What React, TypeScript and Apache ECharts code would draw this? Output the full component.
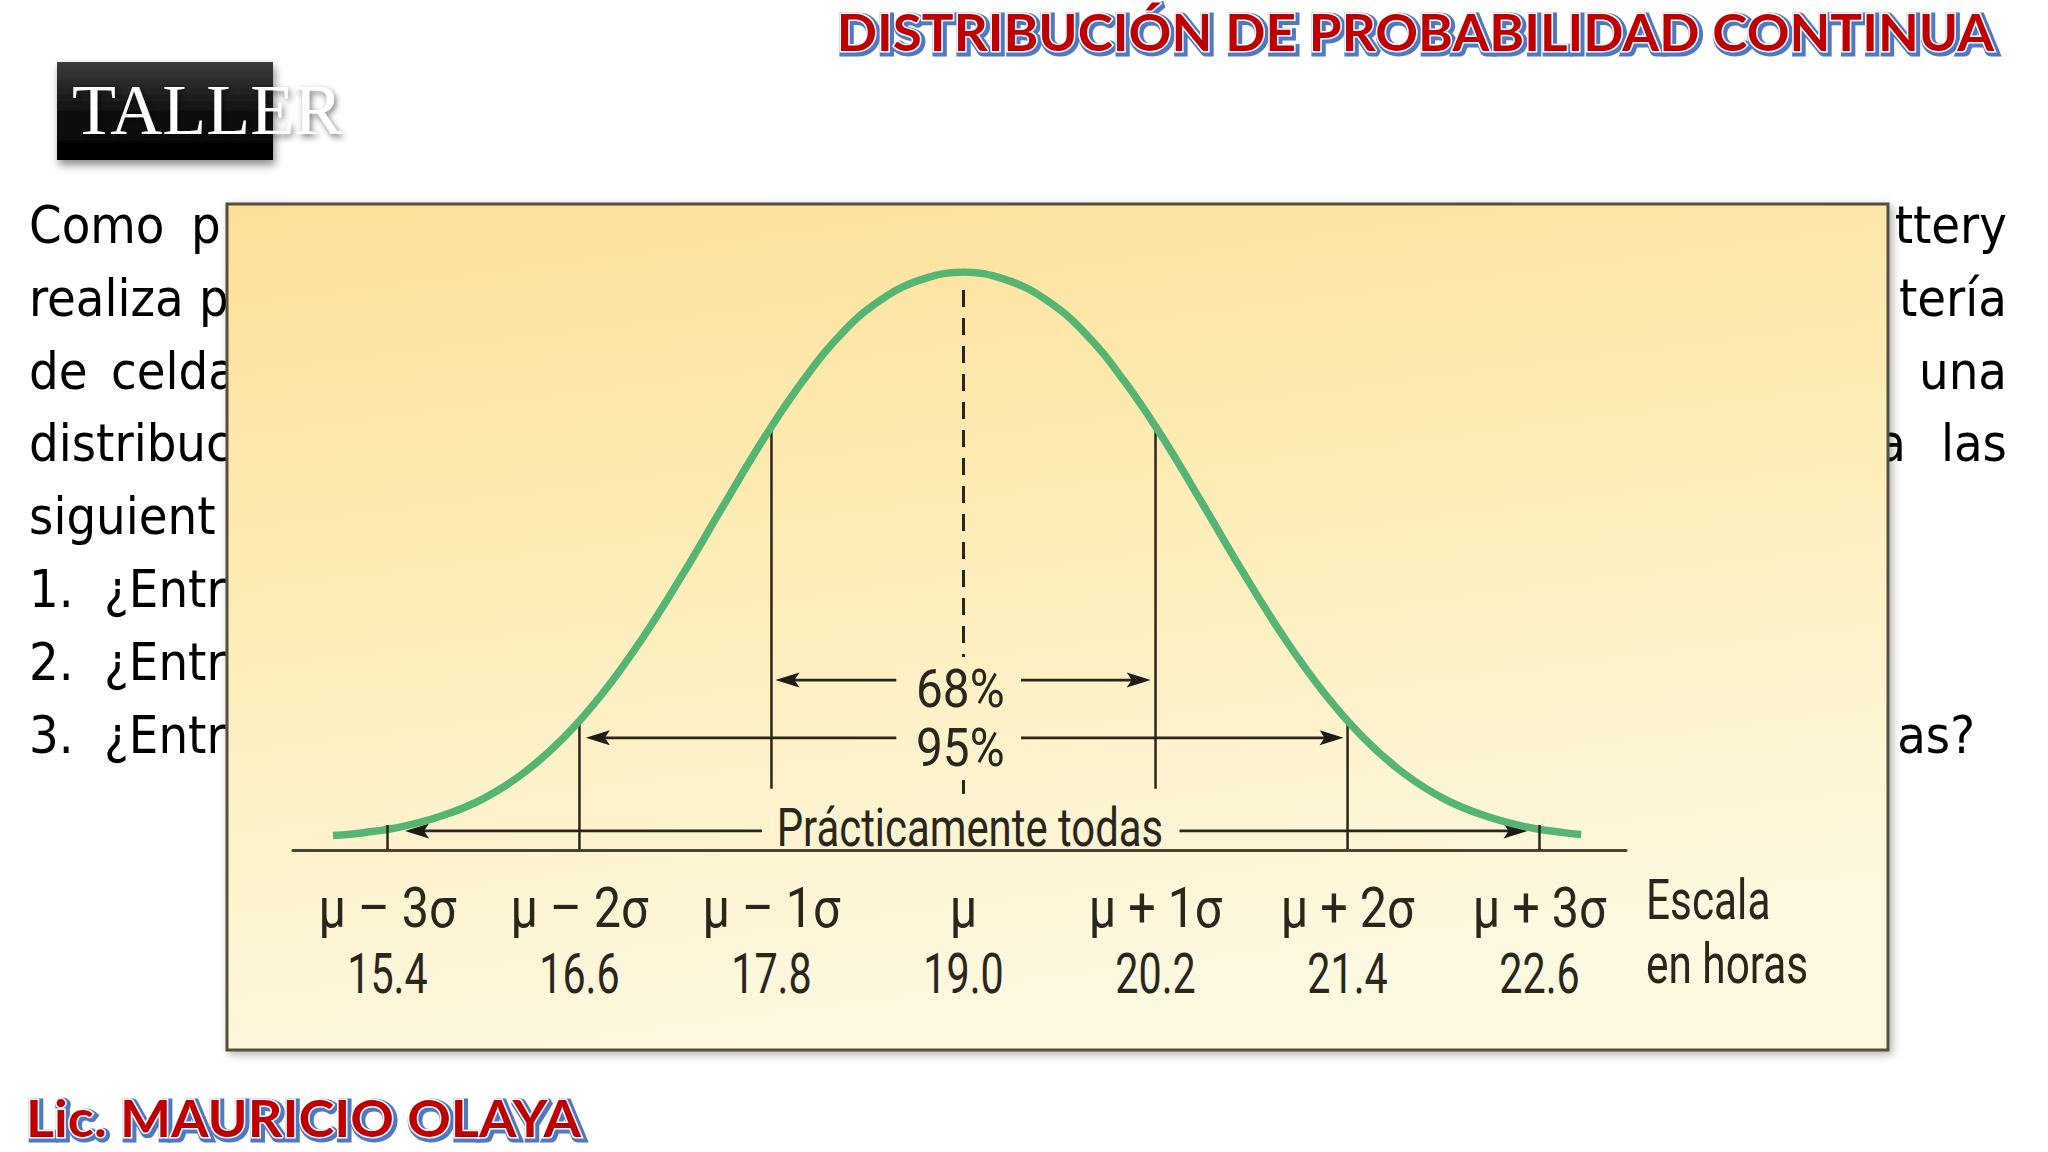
import React, { useEffect, useRef } from "react";
import * as echarts from "echarts";

// ---- data ----
const tickValues = [15.4, 16.6, 17.8, 19.0, 20.2, 21.4, 22.6];
const sigmaLabels = ["μ – 3σ", "μ – 2σ", "μ – 1σ", "μ", "μ + 1σ", "μ + 2σ", "μ + 3σ"];
const hourLabels = ["15.4", "16.6", "17.8", "19.0", "20.2", "21.4", "22.6"];
const edgeTicks = [15.4, 22.6];

// drawn bell curve (hours, relative height; 1 = peak)
const curveHours = [15.06, 15.25, 15.5, 15.75, 16.0, 16.25, 16.5, 16.75, 17.0, 17.25, 17.5, 17.75, 18.0, 18.25, 18.5, 18.75, 19.0, 19.25, 19.5, 19.75, 20.0, 20.25, 20.5, 20.75, 21.0, 21.25, 21.5, 21.75, 22.0, 22.25, 22.5, 22.75, 22.86];
const curveHeight = [0.025, 0.03, 0.041, 0.06, 0.089, 0.133, 0.194, 0.273, 0.369, 0.479, 0.596, 0.711, 0.813, 0.897, 0.955, 0.988, 1.0, 0.988, 0.955, 0.897, 0.813, 0.711, 0.596, 0.479, 0.369, 0.273, 0.194, 0.133, 0.089, 0.06, 0.041, 0.03, 0.027];

// vertical bounds: [hours, from, to]
const boundLines = [
  [16.6, 0, 0.228],
  [17.8, 0.106, 0.735],
  [20.2, 0.106, 0.735],
  [21.4, 0, 0.228],
];
// dashed mean line segments: [hours, from, to]
const meanSegments = [
  [19.0, 0.334, 0.969],
  [19.0, 0.097, 0.121],
];
// arrows: [tail hours, tip hours, height]
const arrowRows = [
  [18.58, 17.825, 0.294],
  [19.36, 20.17, 0.294],
  [18.58, 16.64, 0.194],
  [19.36, 21.375, 0.194],
  [17.74, 15.51, 0.033],
  [20.35, 22.525, 0.033],
];
// interval labels: [hours, height, text]
const intervalLabels: [number, number, string][] = [
  [18.98, 0.28, "68%"],
  [18.98, 0.178, "95%"],
  [19.04, 0.038, "Prácticamente todas"],
];
const intervalScale = [0.9, 0.9, 0.79];

const slideTitle = "DISTRIBUCIÓN DE PROBABILIDAD CONTINUA";
const footerText = "Lic. MAURICIO OLAYA";
const badgeText = "TALLER";
const scaleText = ["Escala", "en horas"];

const NARROW = "Roboto, 'Liberation Sans', sans-serif";
const SLIDE = "'DejaVu Sans Condensed', 'DejaVu Sans', sans-serif";
const INK = "#2a261c";

function bodyTexts() {
  const left: [string, number, number][] = [
    ["Como", 29, 225], ["p", 191, 225],
    ["realiza", 29, 298], ["p", 199, 298],
    ["de", 29, 371], ["celda", 111, 371],
    ["distribuc", 29, 443],
    ["siguient", 29, 516],
    ["1.", 29, 589], ["¿Entr", 104, 589],
    ["2.", 29, 662], ["¿Entr", 104, 662],
    ["3.", 29, 735], ["¿Entr", 104, 735],
  ];
  const right: [string, number, number][] = [
    ["ttery", 2007, 225],
    ["tería", 2007, 298],
    ["una", 2007, 371],
    ["a", 1906, 443], ["las", 2007, 443],
    ["as?", 1975, 735],
  ];
  const mk = (t: string, x: number, y: number, align: string) => ({
    type: "text",
    z: 0,
    x,
    y,
    style: { text: t, fill: "#000", font: `52px ${SLIDE}`, align, verticalAlign: "middle" },
  });
  return [...left.map((l) => mk(l[0], l[1], l[2], "left")), ...right.map((r) => mk(r[0], r[1], r[2], "right"))];
}

function wordArt(text: string, x: number, y: number, align: string, sx: number) {
  const font = `bold 52px Lato, 'Open Sans', sans-serif`;
  return [
    {
      type: "text", z: 20, x: x + 2, y: y + 2, scaleX: sx,
      style: { text, font, fill: "#4f79c6", stroke: "#4f79c6", lineWidth: 7, align, verticalAlign: "middle" },
    },
    {
      type: "text", z: 21, x, y, scaleX: sx,
      style: { text, font, fill: "#c00000", stroke: "#ffffff", lineWidth: 3, align, verticalAlign: "middle" },
    },
  ];
}

export default function App() {
  const ref = useRef<HTMLDivElement>(null);
  useEffect(() => {
    if (!ref.current) return;
    const chart = echarts.init(ref.current, undefined, { renderer: "svg" });
    const curve = curveHours.map((h, i) => [h, curveHeight[i]]);

    const option: any = {
      animation: false,
      backgroundColor: "#ffffff",
      grid: { left: 293, right: 422, top: 272, bottom: 302, containLabel: false },
      xAxis: {
        type: "value",
        min: 14.81,
        max: 23.14,
        z: 5,
        axisLine: { show: true, lineStyle: { color: "#4a4430", width: 3 } },
        splitLine: { show: false },
        axisTick: {
          show: true,
          inside: true,
          length: 25,
          customValues: edgeTicks,
          lineStyle: { color: INK, width: 2.5 },
        },
        axisLabel: { show: false },
      },
      yAxis: { type: "value", min: 0, max: 1, show: false, splitLine: { show: false } },
      series: [
        {
          type: "line",
          data: curve,
          smooth: 0.4,
          symbol: "none",
          z: 4,
          lineStyle: { color: "#55b572", width: 7.5 },
        },
        {
          type: "custom",
          data: boundLines,
          clip: false,
          z: 3,
          renderItem: (_p: any, api: any) => {
            const a = api.coord([api.value(0), api.value(1)]);
            const b = api.coord([api.value(0), api.value(2)]);
            return { type: "line", shape: { x1: a[0], y1: a[1], x2: b[0], y2: b[1] }, style: { stroke: INK, lineWidth: 2.5 } };
          },
        },
        {
          type: "custom",
          data: meanSegments,
          clip: false,
          z: 3,
          renderItem: (_p: any, api: any) => {
            const a = api.coord([api.value(0), api.value(1)]);
            const b = api.coord([api.value(0), api.value(2)]);
            return {
              type: "line",
              shape: { x1: a[0], y1: b[1], x2: b[0], y2: a[1] },
              style: { stroke: INK, lineWidth: 3, lineDash: [17, 11] },
            };
          },
        },
        {
          type: "custom",
          data: arrowRows,
          clip: false,
          z: 3,
          renderItem: (_p: any, api: any) => {
            const tail = api.coord([api.value(0), api.value(2)]);
            const tip = api.coord([api.value(1), api.value(2)]);
            const d = Math.sign(tip[0] - tail[0]);
            const L = 24, H = 7.5;
            const base = tip[0] - d * L;
            return {
              type: "group",
              children: [
                { type: "line", shape: { x1: tail[0], y1: tail[1], x2: base + d * 6, y2: tip[1] }, style: { stroke: INK, lineWidth: 2.8 } },
                {
                  type: "polygon",
                  shape: { points: [[tip[0], tip[1]], [base, tip[1] - H], [base + d * 5, tip[1]], [base, tip[1] + H]] },
                  style: { fill: "#1e1b14" },
                },
              ],
            };
          },
        },
        {
          type: "custom",
          data: intervalLabels.map((r) => [r[0], r[1]]),
          clip: false,
          z: 6,
          renderItem: (p: any, api: any) => {
            const c = api.coord([api.value(0), api.value(1)]);
            return {
              type: "text",
              x: c[0],
              y: c[1],
              scaleX: intervalScale[p.dataIndex],
              style: {
                text: intervalLabels[p.dataIndex][2],
                fill: INK,
                fontFamily: NARROW,
                fontSize: 53,
                align: "center",
                verticalAlign: "middle",
              },
            };
          },
        },
        {
          // tick labels, placed by the x axis scale
          type: "custom",
          data: tickValues.map((v, i) => [v, 0, i]),
          clip: false,
          z: 6,
          renderItem: (_p: any, api: any) => {
            const c = api.coord([api.value(0), api.value(1)]);
            const i = api.value(2);
            const st = (t: string) => ({ text: t, fill: INK, fontFamily: NARROW, fontSize: 55, align: "center", verticalAlign: "middle" });
            return {
              type: "group",
              children: [
                { type: "text", x: c[0], y: c[1] + 58, scaleX: 0.88, style: st(sigmaLabels[i]) },
                { type: "text", x: c[0], y: c[1] + 124, scaleX: 0.75, style: st(hourLabels[i]) },
              ],
            };
          },
        },
      ],
      graphic: {
        elements: [
          ...bodyTexts(),
          {
            type: "rect",
            z: 1,
            shape: { x: 227, y: 204, width: 1661, height: 846 },
            style: {
              fill: new echarts.graphic.LinearGradient(0, 0, 0.25, 1, [
                { offset: 0, color: "#fddf98" },
                { offset: 0.45, color: "#fdecb6" },
                { offset: 1, color: "#fdf8e0" },
              ]),
              stroke: "#57503a",
              lineWidth: 3,
              shadowBlur: 8,
              shadowOffsetX: 3,
              shadowOffsetY: 3,
              shadowColor: "rgba(0,0,0,0.3)",
            },
          },
          {
            type: "text",
            z: 10,
            x: 1646,
            y: 900,
            scaleX: 0.77,
            style: { text: scaleText[0], fill: INK, fontFamily: NARROW, fontSize: 55, align: "left", verticalAlign: "middle" },
          },
          {
            type: "text",
            z: 10,
            x: 1646,
            y: 964,
            scaleX: 0.77,
            style: { text: scaleText[1], fill: INK, fontFamily: NARROW, fontSize: 55, align: "left", verticalAlign: "middle" },
          },
          {
            type: "rect",
            z: 12,
            shape: { x: 57, y: 62, width: 216, height: 98 },
            style: {
              fill: new echarts.graphic.LinearGradient(0, 0, 0, 1, [
                { offset: 0, color: "#3c3c3c" },
                { offset: 0.5, color: "#111111" },
                { offset: 1, color: "#000000" },
              ]),
              shadowBlur: 8,
              shadowOffsetX: 2,
              shadowOffsetY: 5,
              shadowColor: "rgba(0,0,0,0.45)",
            },
          },
          {
            type: "text",
            z: 13,
            x: 72,
            y: 110,
            style: {
              text: badgeText,
              fill: "#ffffff",
              font: `72px 'Liberation Serif', 'DejaVu Serif', serif`,
              align: "left",
              verticalAlign: "middle",
              textShadowColor: "rgba(0,0,0,0.55)",
              textShadowBlur: 6,
              textShadowOffsetX: 2,
              textShadowOffsetY: 3,
            },
          },
          ...wordArt(slideTitle, 1994, 31, "right", 1.02),
          ...wordArt(footerText, 26, 1117, "left", 1.04),
        ],
      },
    };
    chart.setOption(option);
    return () => chart.dispose();
  }, []);
  return <div ref={ref} style={{ position: "fixed", left: 0, top: 0, width: 2048, height: 1152 }} />;
}
